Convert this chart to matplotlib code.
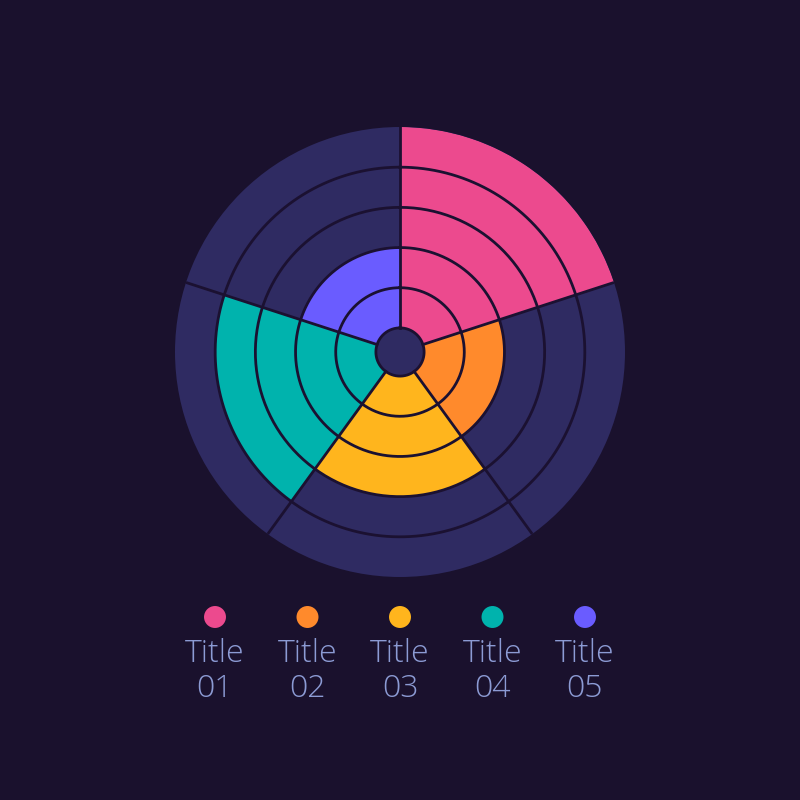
import numpy as np
import matplotlib
matplotlib.use("Agg")
import matplotlib.pyplot as plt

# data
titles = ["Title", "Title", "Title", "Title", "Title"]
numbers = ["01", "02", "03", "04", "05"]
values = [5, 2, 3, 4, 2]          # filled rings per sector (out of 5)
colors = ["#EC4A8E", "#FF8A2C", "#FFB51D", "#00B3AD", "#6A5CFF"]
n_rings = 5
hole = 0.6

BG = "#1A112D"
NAVY = "#2F2B62"
LINE = "#1B1131"
TEXT = "#8C9BD4"

fig = plt.figure(figsize=(8, 8), dpi=100, facecolor=BG)

ax = fig.add_axes([0.21875, 0.27875, 0.5625, 0.5625], projection="polar")
ax.set_theta_zero_location("N")
ax.set_theta_direction(-1)
ax.set_facecolor(NAVY)
ax.spines["polar"].set_visible(False)
ax.set_xticks([]); ax.set_yticks([])
ax.grid(False)
rmax = hole + n_rings
ax.set_ylim(0, rmax)

n = len(values)
width = 2 * np.pi / n
theta = np.arange(n) * width + width / 2
ax.bar(theta, values, width=width, bottom=hole, color=colors, edgecolor="none", zorder=2)

# ring lines
t = np.linspace(0, 2 * np.pi, 400)
for r in np.arange(n_rings) + hole:
    ax.plot(t, np.full_like(t, r), color=LINE, lw=2.0, zorder=3)
# sector dividers
for a in np.arange(n) * width:
    ax.plot([a, a], [hole, rmax], color=LINE, lw=2.0, zorder=3)

# legend
lg = fig.add_axes([0, 0, 1, 1])
lg.set_xlim(0, 800); lg.set_ylim(800, 0); lg.axis("off")
xs = np.linspace(215, 585, n)
lg.scatter(xs, [617] * n, s=250, c=colors, edgecolors="none")
for x, t1, t2 in zip(xs, titles, numbers):
    lg.text(x, 654, t1, ha="center", va="center", fontsize=23, color=TEXT,
            family="Open Sans", weight="light")
    lg.text(x, 689, t2, ha="center", va="center", fontsize=23, color=TEXT,
            family="Open Sans", weight="light")

fig.savefig("out.png", dpi=100, facecolor=BG)
